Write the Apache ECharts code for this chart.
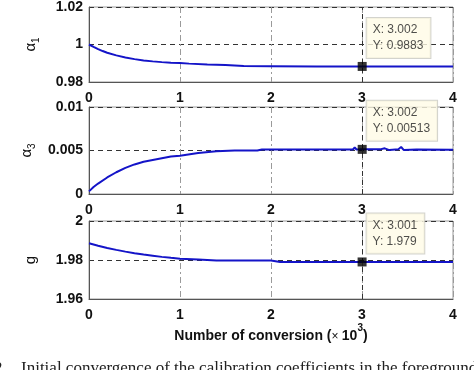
<!DOCTYPE html>
<html><head><meta charset="utf-8">
<script src="https://cdn.jsdelivr.net/npm/echarts@6/dist/echarts.min.js"></script>
<style>html,body{margin:0;padding:0;background:#fff}#c{width:474px;height:370px}</style>
</head><body><div id="c"></div>
<script>
// ---- data (x in thousands of conversions) ----
const a1X = [0,0.05,0.1,0.15,0.2,0.3,0.4,0.5,0.6,0.7,0.8,0.9,1.0,1.1,1.3,1.5,1.7,2.0,2.5,3.0,3.5,4.0];
const a1Y = [1.0,0.9987,0.9975,0.9965,0.9956,0.9942,0.9931,0.9922,0.9915,0.9910,0.9906,0.9903,0.9901,0.9898,0.9893,0.9891,0.9885,0.9884,0.9883,0.9883,0.9883,0.9883];

const a3X = [0,0.05,0.1,0.2,0.3,0.4,0.5,0.6,0.7,0.8,0.9,1.0,1.2,1.4,1.6,1.85,1.9,2.5,2.9,2.92,2.94,3.0,3.2,3.25,3.3,3.4,3.43,3.46,3.6,4.0];
const a3Y = [0.0003,0.0008,0.0012,0.0019,0.0025,0.0030,0.0034,0.0037,0.0039,0.0041,0.0043,0.0044,0.0047,0.0049,0.0050,0.0050,0.00512,0.00512,0.00512,0.00535,0.00512,0.00513,0.00513,0.00525,0.00505,0.00515,0.0054,0.00505,0.00512,0.0051];

const gX = [0,0.1,0.2,0.3,0.4,0.5,0.6,0.7,0.8,0.9,1.0,1.2,1.4,1.6,1.8,2.0,2.1,2.5,3.0,4.0];
const gY = [1.9886,1.9873,1.9862,1.9852,1.9843,1.9835,1.9828,1.9822,1.9816,1.9811,1.9807,1.9803,1.9798,1.9797,1.9797,1.9798,1.9790,1.9790,1.9790,1.9790];

// data tips
const tipX = [3.002, 3.002, 3.001];
const tipY = [0.9883, 0.00513, 1.979];

// axes
const xTicks = [0, 1, 2, 3, 4];
const a1Ticks = [0.98, 1, 1.02];
const a3Ticks = [0, 0.005, 0.01];
const gTicks = [1.96, 1.98, 2];
const yNameMain = ['α', 'α', 'g'];
const yNameSub = ['1', '3', ''];
const xTitleMain = 'Number of conversion (';
const xTitleTimes = '× ';
const xTitleBase = '10';
const xTitleExp = '3';
const caption = 'Initial convergence of the calibration coefficients in the foreground';

const FONT = '"Liberation Sans", Arial, sans-serif';
const grids = [
  {left: 89, right: 21, top: 7, height: 75},
  {left: 89, right: 21, top: 107, height: 87},
  {left: 89, right: 21, top: 221, height: 78}
];
const yTickSets = [a1Ticks, a3Ticks, gTicks];
const series = [[a1X, a1Y], [a3X, a3Y], [gX, gY]];

const option = {
  backgroundColor: '#fff',
  animation: false,
  grid: grids.map(g => Object.assign({show: true, borderColor: '#9a9a9a', borderWidth: 1, backgroundColor: 'transparent'}, g)),
  xAxis: grids.map((g, i) => ({
    type: 'value', gridIndex: i,
    min: xTicks[0], max: xTicks[xTicks.length - 1], interval: xTicks[1] - xTicks[0],
    axisLine: {show: true, lineStyle: {color: '#555', width: 1}},
    axisTick: {show: false},
    axisLabel: {fontFamily: FONT, fontWeight: 'bold', fontSize: 14, color: '#111', margin: 9,
                formatter: v => String(v)},
    splitLine: {show: true, lineStyle: {color: '#9a9a9a', type: [6, 3, 2, 3], width: 1}},
    name: i === 2 ? '{m|' + xTitleMain + '}{t|' + xTitleTimes + '}{m|' + xTitleBase + '}{e|' + xTitleExp + '}{m|)}' : '',
    nameLocation: 'middle', nameGap: 23,
    nameTextStyle: {
      fontFamily: FONT, fontWeight: 'bold', fontSize: 14, color: '#111',
      rich: {
        m: {fontFamily: FONT, fontWeight: 'bold', fontSize: 14, color: '#111', lineHeight: 20, verticalAlign: 'bottom'},
        t: {fontFamily: FONT, fontWeight: 'normal', fontSize: 12, color: '#111', lineHeight: 20, verticalAlign: 'bottom'},
        e: {fontFamily: FONT, fontWeight: 'bold', fontSize: 10, color: '#111', lineHeight: 20, verticalAlign: 'top'}
      }
    }
  })),
  yAxis: grids.map((g, i) => {
    const t = yTickSets[i];
    return {
      type: 'value', gridIndex: i,
      min: t[0], max: t[t.length - 1], interval: t[1] - t[0],
      axisLine: {show: true, lineStyle: {color: '#555', width: 1}},
      axisTick: {show: false},
      axisLabel: {fontFamily: FONT, fontWeight: 'bold', fontSize: 14, color: '#111', margin: 6,
                  formatter: v => String(+(+v).toFixed(5))},
      splitLine: {show: true, lineStyle: {color: '#333', type: [5, 4], width: 1}},
      name: yNameSub[i] ? '{a|' + yNameMain[i] + '}{s|' + yNameSub[i] + '}' : '{a|' + yNameMain[i] + '}',
      nameLocation: 'middle', nameRotate: 90, nameGap: 48,
      nameTextStyle: {
        fontFamily: FONT, color: '#111',
        rich: {
          a: {fontFamily: FONT, fontSize: 15, color: '#111', lineHeight: 20, verticalAlign: 'middle'},
          s: {fontFamily: FONT, fontSize: 10, color: '#111', lineHeight: 20, verticalAlign: 'bottom'}
        }
      }
    };
  }),
  series: [],
  graphic: [
    {type: 'text', left: -6, top: 360, style: {text: '2', font: '17px "Liberation Serif", serif', fill: '#222'}},
    {type: 'text', left: 21, top: 360, style: {text: caption, font: '17px "Liberation Serif", serif', fill: '#222'}}
  ]
};

series.forEach(([xs, ys], i) => {
  option.series.push({
    type: 'line', xAxisIndex: i, yAxisIndex: i,
    data: xs.map((x, k) => [x, ys[k]]),
    showSymbol: false, symbol: 'none',
    lineStyle: {color: '#1414c8', width: 2},
    z: 3,
    markLine: {
      silent: true, symbol: 'none', label: {show: false},
      lineStyle: {color: '#333', type: [5, 4], width: 1},
      data: [{xAxis: 3}]
    }
  });
  option.series.push({
    type: 'scatter', xAxisIndex: i, yAxisIndex: i,
    data: [[tipX[i], tipY[i]]],
    symbol: 'rect', symbolSize: 9,
    itemStyle: {color: '#000'},
    z: 5,
    label: {
      show: true, position: [9, -44],
      formatter: 'X: ' + tipX[i] + '\nY: ' + tipY[i],
      fontFamily: FONT, fontSize: 12, lineHeight: 16, color: '#222',
      backgroundColor: '#fffbe6', borderColor: '#c8c8c0', borderWidth: 1,
      padding: [4, 7, 4, 6]
    }
  });
});

const chart = echarts.init(document.getElementById('c'), null, {renderer: 'canvas'});
chart.setOption(option);
</script></body></html>
